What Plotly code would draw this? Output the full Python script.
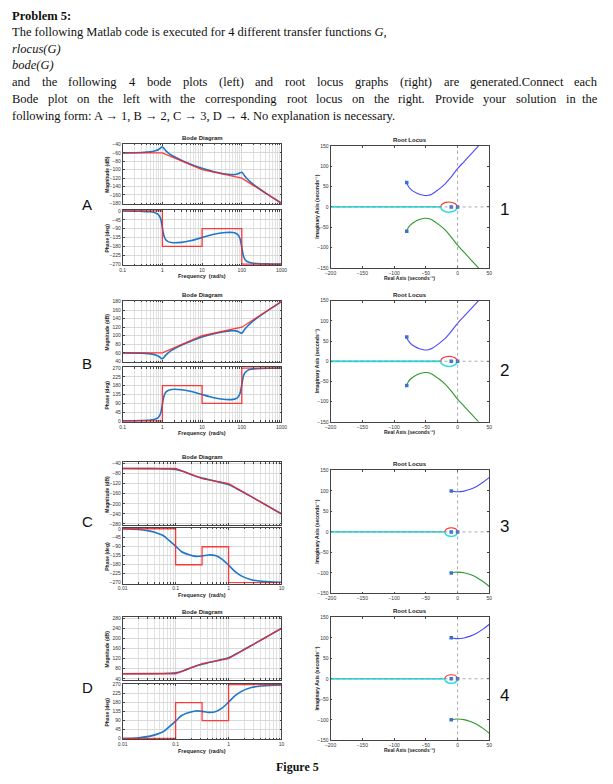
import plotly.graph_objects as go

W, H = 613, 784

# ---------------- text ----------------
problem_lines = [
    "<b>Problem 5:</b>",
    "The following Matlab code is executed for 4 different transfer functions <i>G</i>,",
    "<i>rlocus(G)</i>",
    "<i>bode(G)</i>",
    "and the following 4 bode plots (left) and root locus graphs (right) are generated.Connect each",
    "Bode plot on the left with the corresponding root locus on the right. Provide your solution in the",
    "following form: A \u2192 1, B \u2192 2, C \u2192 3, D \u2192 4. No explanation is necessary.",
]
justified = [False, False, False, False, True, True, False]
bode_labels = ["A", "B", "C", "D"]
rl_labels = ["1", "2", "3", "4"]
figure_caption = "<b>Figure 5</b>"

# ---------------- Bode A ----------------
A_freq = [0.1, 0.3, 0.5, 0.7, 0.8, 0.9, 0.95, 1.0, 1.05, 1.1, 1.2, 1.4, 1.7, 2, 3, 5, 7, 10, 15, 20,
          30, 40, 50, 60, 70, 80, 90, 100, 110, 120, 140, 170, 200, 300, 500, 1000]
A_mag = [-59.9, -59.2, -57.6, -54.5, -51.9, -48.4, -46.6, -46.0, -47.4, -49.7, -54.0, -59.9, -65.6,
         -69.4, -77.7, -86.6, -91.9, -96.8, -101.7, -104.7, -108.3, -110.3, -111.4, -111.7, -111.3,
         -109.9, -107.5, -106.0, -110.5, -115.6, -122.9, -130.3, -135.6, -147.7, -161.6, -179.9]
A_phase = [-0.6, -2.1, -4.7, -11.4, -19.4, -38.4, -57.4, -84.3, -110, -127.4, -144.6, -155.7, -160.4,
           -161.3, -159.3, -151.6, -144.1, -135, -124.7, -118.4, -111.8, -109.1, -108.7, -109.9,
           -113.3, -121, -139.7, -185.7, -228.9, -246.2, -257.8, -263.2, -265.3, -267.6, -268.7, -269.4]
A_asym_f = [0.1, 1, 10, 100, 1000]
A_asym_mag = [-60, -60, -100, -120, -180]
A_asym_ph_f = [0.1, 1, 1, 10, 10, 100, 100, 1000]
A_asym_ph = [0, 0, -180, -180, -90, -90, -270, -270]

# ---------------- Bode B ----------------
B_freq = A_freq
B_mag = [59.9, 59.2, 57.6, 54.5, 51.9, 48.4, 46.6, 46.0, 47.4, 49.7, 54.0, 59.9, 65.6,
         69.4, 77.7, 86.6, 91.9, 96.8, 101.7, 104.7, 108.3, 110.3, 111.4, 111.7, 111.3,
         109.9, 107.5, 106.0, 110.5, 115.6, 122.9, 130.3, 135.6, 147.7, 161.6, 179.9]
B_phase = [0.6, 2.1, 4.7, 11.4, 19.4, 38.4, 57.4, 84.3, 110, 127.4, 144.6, 155.7, 160.4,
           161.3, 159.3, 151.6, 144.1, 135, 124.7, 118.4, 111.8, 109.1, 108.7, 109.9,
           113.3, 121, 139.7, 185.7, 228.9, 246.2, 257.8, 263.2, 265.3, 267.6, 268.7, 269.4]
B_asym_f = [0.1, 1, 10, 100, 1000]
B_asym_mag = [60, 60, 100, 120, 180]
B_asym_ph_f = [0.1, 1, 1, 10, 10, 100, 100, 1000]
B_asym_ph = [0, 0, 180, 180, 90, 90, 270, 270]

# ---------------- Bode C ----------------
C_freq_mag = [0.01, 0.03, 0.05, 0.07, 0.1, 0.14, 0.2, 0.25, 0.316, 0.4, 0.5, 0.7, 1, 1.4, 2, 3, 5, 7, 10]
C_mag = [-60, -60.3, -61, -62, -63.5, -72, -84.5, -92, -97.5, -103, -107.5, -115, -123.5, -139,
         -157, -177.5, -204, -221.5, -240]
C_freq_ph = [0.01, 0.02, 0.033, 0.045, 0.058, 0.075, 0.1, 0.13, 0.18, 0.24, 0.32, 0.42, 0.56, 0.75,
             1, 1.33, 1.78, 2.7, 4.2, 6, 10]
C_phase = [0, -4, -12, -22, -34, -58, -87, -115, -130, -138, -136, -131, -134, -152, -182, -214,
           -237, -255, -263, -266, -268]
C_asym_f = [0.01, 0.1, 0.316, 1, 10]
C_asym_mag = [-60, -60, -100, -120, -240]
C_asym_ph_f = [0.01, 0.1, 0.1, 0.316, 0.316, 1, 1, 10]
C_asym_ph = [0, 0, -180, -180, -90, -90, -270, -270]

# ---------------- Bode D ----------------
D_freq_mag = C_freq_mag
D_mag = [60, 60.3, 61, 62, 63.5, 72, 84.5, 92, 97.5, 103, 107.5, 115, 123.5, 139,
         157, 177.5, 204, 221.5, 240]
D_freq_ph = C_freq_ph
D_phase = [0, 4, 12, 22, 34, 58, 87, 115, 130, 138, 136, 131, 134, 152, 182, 214,
           237, 255, 263, 266, 268]
D_asym_f = [0.01, 0.1, 0.316, 1, 10]
D_asym_mag = [60, 60, 100, 120, 240]
D_asym_ph_f = [0.01, 0.1, 0.1, 0.316, 0.316, 1, 1, 10]
D_asym_ph = [0, 0, 180, 180, 90, 90, 270, 270]

# ---------------- Root loci ----------------
RL12_blue_x = [-80, -78, -74, -68, -60, -52, -46, -40, -30, -20, -10, 0, 10, 20, 33]
RL12_blue_y = [60, 52, 44, 37, 31, 28, 28.5, 32, 43, 56, 74, 94, 111, 128, 150]
RL12_green_x = [-80, -78, -74, -68, -60, -52, -46, -40, -30, -20, -10, 0, 10, 20, 33]
RL12_green_y = [-60, -52, -44, -37, -31, -28, -28.5, -32, -43, -56, -74, -94, -111, -128, -150]
RL12_red_x = [-0.5, -1.5, -4.3, -8.5, -13.5, -18.5, -22.7, -25.5, -26.5]
RL12_red_y = [0, 4.6, 8.5, 11.1, 12, 11.1, 8.5, 4.6, 0]
RL12_cyan_x = [-0.5, -1.5, -4.3, -8.5, -13.5, -18.5, -22.7, -25.5, -26.5]
RL12_cyan_y = [0, -5, -9.2, -12, -13, -12, -9.2, -5, 0]
RL12_axis_x = [-26.5, -200]
RL12_axis_y = [0, 0]
RL12_poles_x = [-80, -80, -10, 0]
RL12_poles_y = [60, -60, 0, 0]

RL34_blue_x = [-10, -5, 0, 10, 20, 30, 40, 50]
RL34_blue_y = [100, 98.5, 98, 99.5, 104, 111, 121, 133]
RL34_green_x = [-10, -5, 0, 10, 20, 30, 40, 50]
RL34_green_y = [-100, -98.5, -98, -99.5, -104, -111, -121, -133]
RL34_red_x = [0, -0.8, -2.9, -6.2, -10, -13.8, -17.1, -19.2, -20]
RL34_red_y = [0, 3.8, 7.1, 9.2, 10, 9.2, 7.1, 3.8, 0]
RL34_cyan_x = [0, -0.8, -2.9, -6.2, -10, -13.8, -17.1, -19.2, -20]
RL34_cyan_y = [0, -4.2, -7.8, -10.2, -11, -10.2, -7.8, -4.2, 0]
RL34_axis_x = [-20, -200]
RL34_axis_y = [0, 0]
RL34_poles_x = [-10, -10, -10, 0]
RL34_poles_y = [100, -100, 0, 0]

bode_dec_labels_AB = ["0.1", "1", "10", "100", "1000"]
bode_dec_labels_CD = ["0.01", "0.1", "1", "10"]

# ---------------- styling ----------------
SANS = "Liberation Sans, Arial, sans-serif"
SERIF = "Liberation Serif, Times New Roman, serif"
BLUE = "#1f78c8"
RED = "#ff1e1e"
GRID = "#d9d9d9"
AXC = "#444444"

# approximate Times glyph widths (1/1000 em) for justification
TW = {" ": 250, "(": 333, ")": 333, ",": 250, ".": 250, ":": 278, "-": 333, "\u2192": 1000}
TW.update({c: 500 for c in "0123456789"})
TW.update(dict(zip("abcdefghijklmnopqrstuvwxyz",
                   [444, 500, 444, 500, 444, 333, 500, 500, 278, 278, 500, 278, 778, 500, 500, 500,
                    500, 333, 389, 278, 500, 500, 722, 500, 500, 444])))
TW.update(dict(zip("ABCDEFGHIJKLMNOPQRSTUVWXYZ",
                   [722, 667, 667, 722, 611, 556, 722, 722, 333, 389, 722, 611, 889, 722, 722, 556,
                    722, 667, 556, 611, 722, 722, 944, 722, 722, 611])))

fig = go.Figure()
layout = dict(width=W, height=H, margin=dict(l=0, r=0, t=0, b=0),
              paper_bgcolor="white", plot_bgcolor="white", showlegend=False,
              annotations=[], shapes=[])


def px(x):
    return x / W


def py(y):
    return 1 - y / H


def ann(text, x, y, size, xanchor="center", yanchor="middle", angle=0, font=SANS, color="#222"):
    layout["annotations"].append(dict(
        text=text, x=px(x), y=py(y), xref="paper", yref="paper", showarrow=False,
        xanchor=xanchor, yanchor=yanchor, textangle=angle, borderpad=0,
        font=dict(family=font, size=size, color=color)))


axis_counter = [0]


def new_axes(x0, x1, top, bottom, xcfg, ycfg):
    axis_counter[0] += 1
    n = axis_counter[0]
    sfx = "" if n == 1 else str(n)
    base = dict(showline=True, mirror="ticks", linecolor=AXC, linewidth=0.8, ticks="inside",
                ticklen=2, tickcolor=AXC, tickwidth=0.6, zeroline=False,
                tickfont=dict(family=SANS, size=5, color="#333"))
    xa = dict(base, domain=[px(x0), px(x1)], anchor="y" + sfx)
    xa.update(xcfg)
    ya = dict(base, domain=[py(bottom), py(top)], anchor="x" + sfx)
    ya.update(ycfg)
    layout["xaxis" + sfx] = xa
    layout["yaxis" + sfx] = ya
    return "x" + sfx, "y" + sfx


def log_ticks(dec_lo, dec_hi):
    major, minor = [], []
    for d in range(dec_lo, dec_hi + 1):
        major.append(10.0 ** d)
        if d < dec_hi:
            for m in range(2, 10):
                minor.append(m * 10.0 ** d)
    return major, minor


bodes = [
    dict(lab="A", top=141.7, b1=202.7, t2=208.7, bottom=264, dec=(-1, 3), dlabels=bode_dec_labels_AB,
         fm=A_freq, m=A_mag, fp=A_freq, p=A_phase, af=A_asym_f, am=A_asym_mag, apf=A_asym_ph_f, ap=A_asym_ph,
         mr=[-182, -38], md=20, pr=[-274, 4], ly=203),
    dict(lab="B", top=300, b1=362, t2=367, bottom=422, dec=(-1, 3), dlabels=bode_dec_labels_AB,
         fm=B_freq, m=B_mag, fp=B_freq, p=B_phase, af=B_asym_f, am=B_asym_mag, apf=B_asym_ph_f, ap=B_asym_ph,
         mr=[38, 182], md=20, pr=[-4, 274], ly=363),
    dict(lab="C", top=463, b1=526, t2=529, bottom=585, dec=(-2, 1), dlabels=bode_dec_labels_CD,
         fm=C_freq_mag, m=C_mag, fp=C_freq_ph, p=C_phase, af=C_asym_f, am=C_asym_mag, apf=C_asym_ph_f,
         ap=C_asym_ph, mr=[-284, -36], md=40, pr=[-274, 4], ly=523),
    dict(lab="D", top=619, b1=682, t2=686, bottom=742, dec=(-2, 1), dlabels=bode_dec_labels_CD,
         fm=D_freq_mag, m=D_mag, fp=D_freq_ph, p=D_phase, af=D_asym_f, am=D_asym_mag, apf=D_asym_ph_f,
         ap=D_asym_ph, mr=[36, 284], md=40, pr=[-4, 274], ly=690),
]

BX0, BX1 = 119, 281
for i, b in enumerate(bodes):
    lo, hi = b["dec"]
    major, minor = log_ticks(lo, hi)
    for k, (t, bt) in enumerate([(b["top"], b["b1"]), (b["t2"], b["bottom"])]):
        xcfg = dict(type="log", range=[lo, hi], tickmode="array", tickvals=major, ticktext=b["dlabels"],
                    showticklabels=(k == 1), showgrid=True, gridcolor=GRID, gridwidth=0.6,
                    minor=dict(tickmode="array", tickvals=minor, ticks="inside", ticklen=1.5,
                               tickcolor=AXC, tickwidth=0.5, showgrid=True, gridcolor="#e2e2e2",
                               gridwidth=0.5))
        if k == 0:
            ycfg = dict(range=b["mr"], dtick=b["md"], tick0=0, showgrid=True, gridcolor=GRID, gridwidth=0.6)
        else:
            ycfg = dict(range=b["pr"], dtick=45, tick0=0, showgrid=True, gridcolor=GRID, gridwidth=0.6)
        xa, ya = new_axes(BX0, BX1, t, bt, xcfg, ycfg)
        if k == 0:
            fig.add_trace(go.Scatter(x=b["fm"], y=b["m"], mode="lines",
                                     line=dict(color=BLUE, width=1.6, shape="spline", smoothing=0.8),
                                     xaxis=xa, yaxis=ya))
            fig.add_trace(go.Scatter(x=b["af"], y=b["am"], mode="lines", line=dict(color=RED, width=1.3),
                                     opacity=0.85, xaxis=xa, yaxis=ya))
        else:
            fig.add_trace(go.Scatter(x=b["fp"], y=b["p"], mode="lines",
                                     line=dict(color=BLUE, width=1.6, shape="spline", smoothing=0.8),
                                     xaxis=xa, yaxis=ya))
            fig.add_trace(go.Scatter(x=b["apf"], y=b["ap"], mode="lines", line=dict(color=RED, width=1.3),
                                     opacity=0.85, xaxis=xa, yaxis=ya))
    cx = (BX0 + BX1) / 2
    ann("<b>Bode Diagram</b>", cx, b["top"] - 5.5, 6)
    ann("<b>Magnitude (dB)</b>", 103, (b["top"] + b["b1"]) / 2, 5, angle=-90)
    ann("<b>Phase (deg)</b>", 103, (b["t2"] + b["bottom"]) / 2, 5, angle=-90)
    ann("<b>Frequency  (rad/s)</b>", cx, b["bottom"] + 11.5, 5.5)
    ann(b["lab"], 83, b["ly"], 15, color="#111")

rls = [
    dict(top=144, bottom=267, d="12", title=True, ly=208),
    dict(top=300, bottom=422, d="12", title=True, ly=370),
    dict(top=471, bottom=595, d="34", title=False, ly=528),
    dict(top=619, bottom=743, d="34", title=True, ly=698),
]
RLD = {
    "12": (RL12_blue_x, RL12_blue_y, RL12_green_x, RL12_green_y, RL12_red_x, RL12_red_y,
           RL12_cyan_x, RL12_cyan_y, RL12_axis_x, RL12_axis_y, RL12_poles_x, RL12_poles_y),
    "34": (RL34_blue_x, RL34_blue_y, RL34_green_x, RL34_green_y, RL34_red_x, RL34_red_y,
           RL34_cyan_x, RL34_cyan_y, RL34_axis_x, RL34_axis_y, RL34_poles_x, RL34_poles_y),
}
RX0, RX1 = 331, 493
for i, r in enumerate(rls):
    xcfg = dict(range=[-200, 50], dtick=50, tick0=0, showgrid=False)
    ycfg = dict(range=[-150, 150], dtick=50, tick0=0, showgrid=False)
    xa, ya = new_axes(RX0, RX1, r["top"], r["bottom"], xcfg, ycfg)
    bx, by, gx, gy, rx, ry, cxs, cys, axx, axy, pxs, pys = RLD[r["d"]]
    layout["shapes"].append(dict(type="line", xref=xa, yref=ya, x0=0, x1=0, y0=-150, y1=150,
                                 line=dict(color="#888", width=0.7, dash="dot")))
    layout["shapes"].append(dict(type="line", xref=xa, yref=ya, x0=-200, x1=50, y0=0, y1=0,
                                 line=dict(color="#888", width=0.7, dash="dot")))
    fig.add_trace(go.Scatter(x=axx, y=axy, mode="lines", line=dict(color="#33dede", width=1.8),
                             xaxis=xa, yaxis=ya))
    fig.add_trace(go.Scatter(x=cxs, y=cys, mode="lines", line=dict(color="#33dede", width=1.6, shape="spline"),
                             xaxis=xa, yaxis=ya))
    fig.add_trace(go.Scatter(x=rx, y=ry, mode="lines", line=dict(color="#ff3030", width=1.1, shape="spline"),
                             xaxis=xa, yaxis=ya))
    fig.add_trace(go.Scatter(x=bx, y=by, mode="lines", line=dict(color="#4a4aff", width=1.1, shape="spline"),
                             xaxis=xa, yaxis=ya))
    fig.add_trace(go.Scatter(x=gx, y=gy, mode="lines", line=dict(color="#2e9a2e", width=1.1, shape="spline"),
                             xaxis=xa, yaxis=ya))
    fig.add_trace(go.Scatter(x=pxs, y=pys, mode="markers", marker=dict(color="#3b6fd6", size=3.5, symbol="square"),
                             xaxis=xa, yaxis=ya))
    cx = (RX0 + RX1) / 2
    ann("<b>Root Locus</b>", cx, r["top"] - 6, 6)
    ann("<b>Imaginary Axis (seconds\u207b\u00b9)</b>", 317, (r["top"] + r["bottom"]) / 2, 5, angle=-90)
    if r["title"]:
        ann("<b>Real Axis (seconds\u207b\u00b9)</b>", cx, r["bottom"] + 10, 5)
    ann(rl_labels[i], 508, r["ly"], 17, color="#111")

# problem statement
FS = 12.5
TX0, TX1 = 5, 605
line_y = [13, 29, 46.5, 62, 80, 97, 114]


def word_width(w):
    return sum(TW.get(c, 500) for c in w) * FS / 1000.0 * 1.04


for t, y, just in zip(problem_lines, line_y, justified):
    if not just:
        ann(t, TX0, y, FS, xanchor="left", font=SERIF, color="#111")
        continue
    words = t.split(" ")
    widths = [word_width(w) for w in words]
    gap = (TX1 - TX0 - sum(widths)) / (len(words) - 1)
    x = TX0
    for j, (w, wd) in enumerate(zip(words, widths)):
        if j == len(words) - 1:
            ann(w, TX1, y, FS, xanchor="right", font=SERIF, color="#111")
        else:
            ann(w, x, y, FS, xanchor="left", font=SERIF, color="#111")
        x += wd + gap

ann(figure_caption, 297, 770, 12, font=SERIF, color="#111")

fig.update_layout(**layout)
fig.write_html("out.html", config={"displayModeBar": False},
               post_script="document.body.style.margin='0';document.body.style.padding='0';")
